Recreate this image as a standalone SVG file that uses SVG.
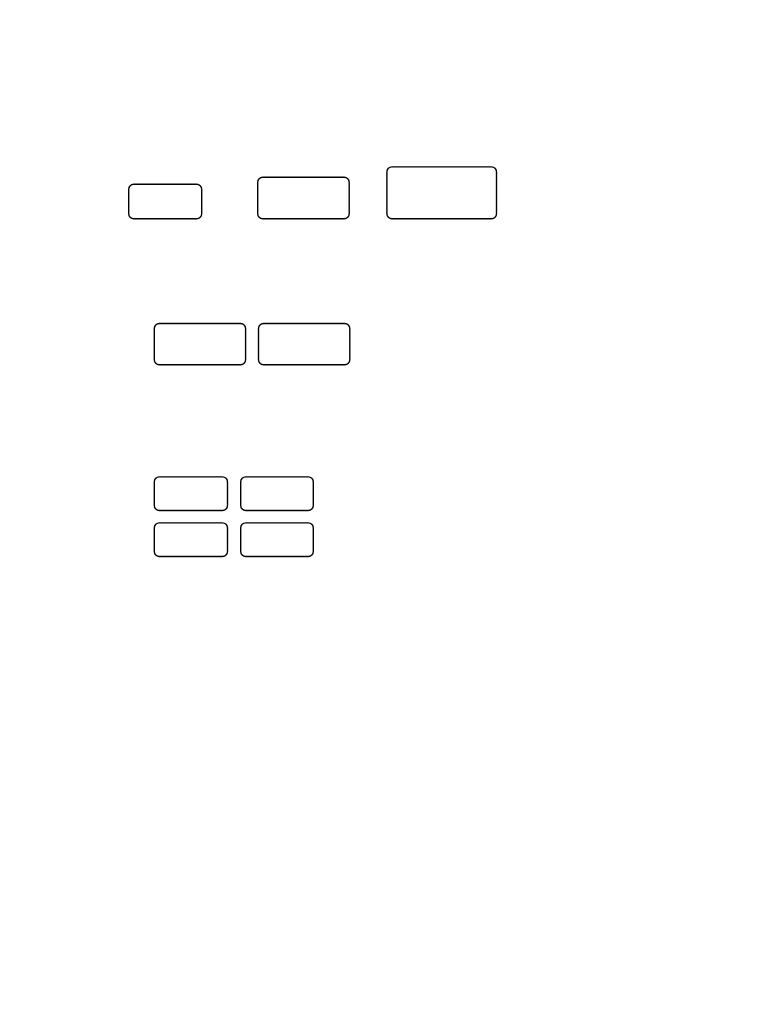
<svg xmlns="http://www.w3.org/2000/svg" width="768" height="1024" viewBox="0 0 768 1024">
<style>
.box{fill:#fff;stroke:#000;stroke-width:1.4;}
</style>
<rect width="768" height="1024" fill="#fff"/>
<g id="connectors"></g>
<g id="n1"><rect class="box" x="128.7" y="184.3" width="73" height="34.4" rx="5"/></g>
<g id="n2"><rect class="box" x="257.7" y="177.3" width="91.5" height="41.4" rx="5"/></g>
<g id="n3"><rect class="box" x="386.9" y="166.9" width="109.6" height="51.8" rx="5"/></g>
<g id="n4"><rect class="box" x="154.3" y="323.5" width="91.3" height="41.2" rx="5"/></g>
<g id="n5"><rect class="box" x="258.5" y="323.5" width="91.3" height="41.2" rx="5"/></g>
<g id="n6"><rect class="box" x="154.3" y="476.9" width="73.2" height="33.6" rx="5"/></g>
<g id="n7"><rect class="box" x="240.7" y="476.9" width="72.6" height="33.6" rx="5"/></g>
<g id="n8"><rect class="box" x="154.3" y="522.9" width="73.2" height="33.6" rx="5"/></g>
<g id="n9"><rect class="box" x="240.7" y="522.9" width="72.6" height="33.6" rx="5"/></g>
</svg>
